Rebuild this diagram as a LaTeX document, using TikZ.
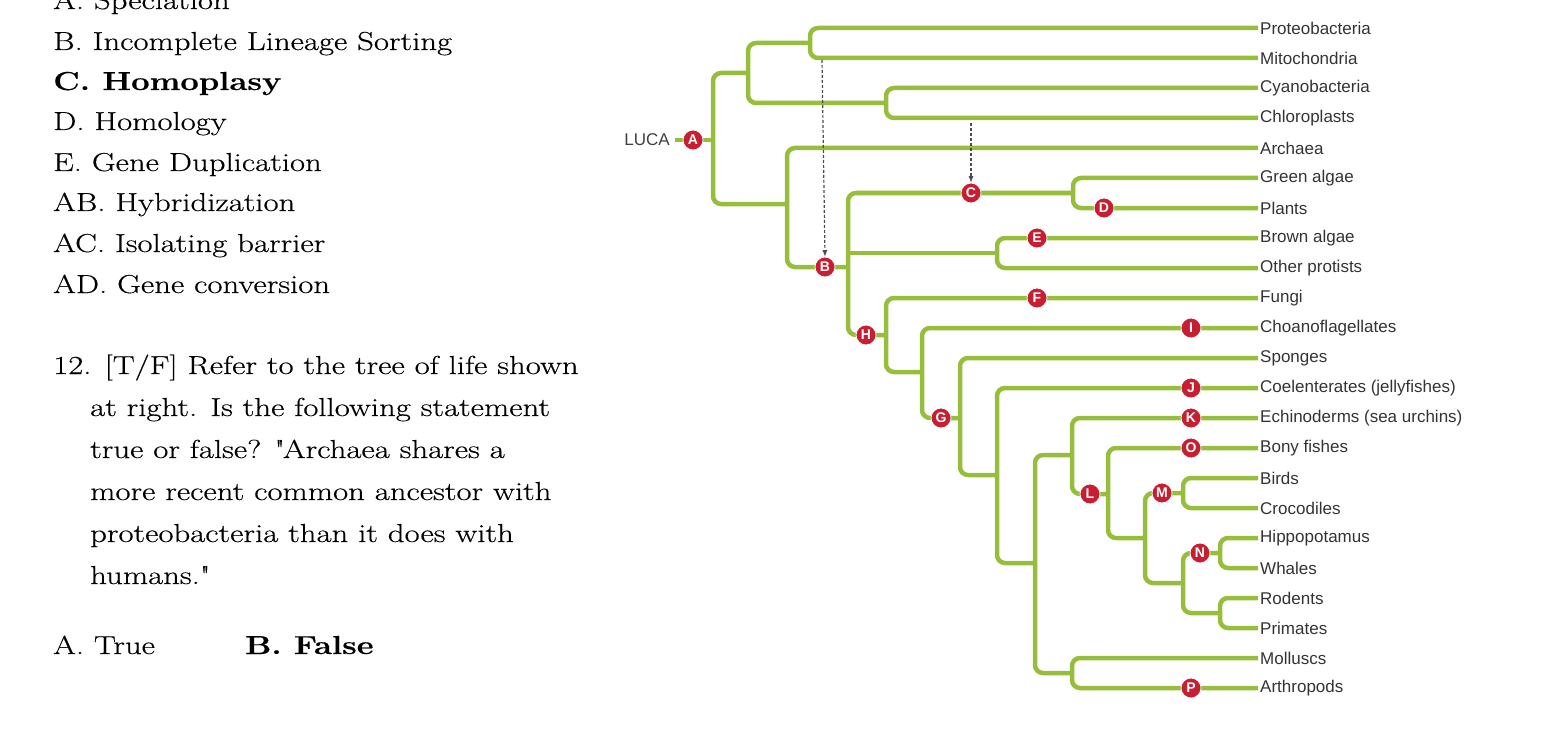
\documentclass[tikz,border=0pt]{standalone}
\usepackage{fontspec}
\setmainfont{Latin Modern Roman}[FakeStretch=1.26,FakeBold=0.4]
\newfontfamily\treefont{Liberation Sans}
\definecolor{br}{RGB}{150,190,60}
\definecolor{nd}{RGB}{200,30,50}
\begin{document}
\begin{tikzpicture}[x=1pt,y=-1pt,
 br/.style={draw=br,line width=4.5pt,rounded corners=8pt},
 nd/.style={circle,fill=nd,draw=white,line width=0.8pt,inner sep=0pt,minimum size=20pt,text=white,font=\treefont\fontsize{14}{14}\selectfont\bfseries},
 leaf/.style={anchor=west,inner sep=0pt,font=\treefont\fontsize{17}{16}\selectfont,text=black!80},
 q/.style={anchor=base west,inner sep=0pt,font=\fontsize{26}{26}\selectfont},
 hgt/.style={draw=black!70,densely dashed,line width=1.2pt,-{latex}}]
\useasboundingbox (0,0) rectangle (1554,746);
% left text
\node[q] (t0) at (53,9) {A. Speciation};
\node[q] (t1) at (53,50) {B. Incomplete Lineage Sorting};
\node[q] (t2) at (53,90) {\bfseries C. Homoplasy};
\node[q] (t3) at (53,130) {D. Homology};
\node[q] (t4) at (53,171) {E. Gene Duplication};
\node[q] (t5) at (53,211) {AB. Hybridization};
\node[q] (t6) at (53,252) {AC. Isolating barrier};
\node[q] (t7) at (53,293) {AD. Gene conversion};
\node[q] (q1) at (53,374) {12. [T/F] Refer to the tree of life shown};
\node[q] (q2) at (90,416) {at right. Is the following statement};
\node[q] (q3) at (90,458) {true or false? \textquotedbl Archaea shares a};
\node[q] (q4) at (90,500) {more recent common ancestor with};
\node[q] (q5) at (90,542) {proteobacteria than it does with};
\node[q] (q6) at (90,584) {humans.\textquotedbl};
\node[q] (aT) at (53,654) {A. True};
\node[q] (aF) at (245,654) {\bfseries B. False};
% leaves
\foreach \n/\t [count=\i from 0] in {l0/Proteobacteria,l1/Mitochondria,l2/Cyanobacteria,l3/Chloroplasts,l4/Archaea,l5/Green algae,l6/Plants,l7/Brown algae,l8/Other protists,l9/Fungi,l10/Choanoflagellates,l11/Sponges,l12/Coelenterates (jellyfishes),l13/Echinoderms (sea urchins),l14/Bony fishes,l15/Birds,l16/Crocodiles,l17/Hippopotamus,l18/Whales,l19/Rodents,l20/Primates,l21/Molluscs,l22/Arthropods}
  \node[leaf] (\n) at (1260,28+30*\i) {\t};
\def\e{1258}
% branches
\draw[br] (\e,28) -- (810,28) -- (810,58) -- (\e,58);
\draw[br] (\e,88) -- (886,88) -- (886,118) -- (\e,118);
\draw[br] (810,43) -- (748,43) -- (748,103) -- (886,103);
\draw[br] (748,73) -- (713,73) -- (713,204) -- (787,204);
\draw[br] (675,140) -- (713,140);
\draw[br] (\e,148) -- (787,148) -- (787,267) -- (848,267);
\draw[br] (1073,193) -- (848,193) -- (848,335) -- (886,335);
\draw[br] (848,253) -- (997,253);
\draw[br] (\e,178) -- (1073,178) -- (1073,208) -- (\e,208);
\draw[br] (\e,238) -- (997,238) -- (997,268) -- (\e,268);
\draw[br] (\e,298) -- (886,298) -- (886,372) -- (922,372);
\draw[br] (\e,328) -- (922,328) -- (922,418) -- (960,418);
\draw[br] (\e,358) -- (960,358) -- (960,475) -- (997,475);
\draw[br] (\e,388) -- (997,388) -- (997,563) -- (1035,563);
\draw[br] (1072,455) -- (1035,455) -- (1035,673) -- (1072,673);
\draw[br] (\e,658) -- (1072,658) -- (1072,688) -- (\e,688);
\draw[br] (\e,418) -- (1072,418) -- (1072,494) -- (1108,494);
\draw[br] (\e,448) -- (1108,448) -- (1108,538) -- (1145,538);
\draw[br] (1183,493) -- (1145,493) -- (1145,583) -- (1183,583);
\draw[br] (\e,478) -- (1183,478) -- (1183,508) -- (\e,508);
\draw[br] (1220,553) -- (1183,553) -- (1183,613) -- (1220,613);
\draw[br] (\e,538) -- (1220,538) -- (1220,568) -- (\e,568);
\draw[br] (\e,598) -- (1220,598) -- (1220,628) -- (\e,628);
% horizontal gene transfer
\coordinate (h1) at (822,60); \coordinate (h2) at (971,123);
\node[nd] (A) at (693,140) {A};
\node[nd] (B) at (825,267) {B};
\node[nd] (C) at (971,193) {C};
\node[nd] (D) at (1104,208) {D};
\node[nd] (E) at (1037,238) {E};
\node[nd] (F) at (1037,298) {F};
\node[nd] (H) at (866,335) {H};
\node[nd] (G) at (941,418) {G};
\node[nd] (I) at (1191,328) {I};
\node[nd] (J) at (1191,388) {J};
\node[nd] (K) at (1191,418) {K};
\node[nd] (O) at (1191,448) {O};
\node[nd] (L) at (1090,494) {L};
\node[nd] (M) at (1162,493) {M};
\node[nd] (N) at (1200,553) {N};
\node[nd] (P) at (1191,688) {P};
\draw[hgt] (h1) -- (B.north);
\draw[hgt] (h2) -- (C.north);
\node[anchor=east,inner sep=0pt,font=\treefont\fontsize{17}{16}\selectfont,text=black!75] (luca) at (670,140) {LUCA};
\end{tikzpicture}
\end{document}
